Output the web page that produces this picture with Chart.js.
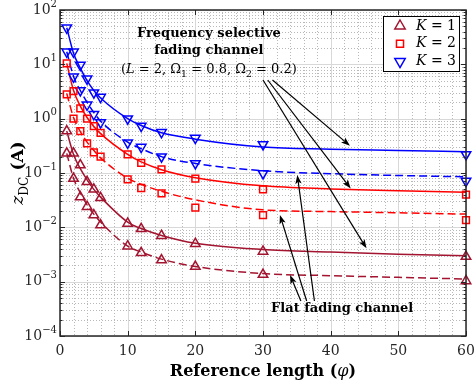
<!DOCTYPE html>
<html>
<head>
<meta charset="utf-8">
<script src="https://cdn.jsdelivr.net/npm/chart.js@4.4.1/dist/chart.umd.min.js"></script>
<style>
  html, body { margin: 0; padding: 0; background: #fff; }
  #wrap { width: 474px; height: 382px; }
</style>
</head>
<body>
<div id="wrap"><canvas id="chart" width="474" height="382"></canvas></div>
<script>
// ── Data ─────────────────────────────────────────────────────
// x positions of the simulated points and of the analytic curves
const X_SIM    = [1, 2, 3, 4, 5, 6, 10, 12, 15, 20, 30, 60];
const X_THEORY = [1, 2, 3, 4, 5, 6, 10, 12, 15, 20, 30, 40, 50, 60];

// analytic curves (solid = frequency selective, dashed = flat fading)
const K1_SEL_LINE  = [0.59, 0.22, 0.12, 0.075, 0.050, 0.036, 0.0125, 0.0095, 0.0071, 0.0051, 0.0039, 0.0035, 0.0032, 0.0030];
const K1_FLAT_LINE = [0.23, 0.08, 0.043, 0.026, 0.0175, 0.0125, 0.0045, 0.0035, 0.0026, 0.0019, 0.00141, 0.00129, 0.0012, 0.00112];
const K2_SEL_LINE  = [10.4, 3.3, 1.7, 1.05, 0.72, 0.53, 0.22, 0.16, 0.115, 0.082, 0.058, 0.051, 0.047, 0.044];
const K2_FLAT_LINE = [2.9, 1.05, 0.58, 0.37, 0.26, 0.19, 0.08, 0.062, 0.046, 0.032, 0.021, 0.0195, 0.0185, 0.0175];
const K3_SEL_LINE  = [47, 16, 8.5, 5.0, 3.3, 2.4, 1.0, 0.75, 0.55, 0.42, 0.30, 0.275, 0.26, 0.245];
const K3_FLAT_LINE = [17, 6.0, 3.3, 2.0, 1.3, 0.9, 0.37, 0.28, 0.20, 0.15, 0.11, 0.097, 0.09, 0.085];

// simulated points (markers)
const K1_SEL_SIM  = [0.59, 0.23, 0.14, 0.069, 0.050, 0.035, 0.0118, 0.0094, 0.0070, 0.0050, 0.0036, 0.0029];
const K1_FLAT_SIM = [0.23, 0.079, 0.036, 0.024, 0.0168, 0.011, 0.0045, 0.0034, 0.0025, 0.0019, 0.00135, 0.00103];
const K2_SEL_SIM  = [10.4, 3.2, 1.55, 1.0, 0.73, 0.55, 0.22, 0.154, 0.117, 0.079, 0.05, 0.040];
const K2_FLAT_SIM = [2.8, 1.0, 0.59, 0.35, 0.24, 0.2, 0.076, 0.053, 0.042, 0.023, 0.0168, 0.0136];
const K3_SEL_SIM  = [47, 17, 9.7, 5.4, 3.0, 2.5, 1.0, 0.73, 0.56, 0.44, 0.336, 0.22];
const K3_FLAT_SIM = [17, 5.9, 3.3, 1.8, 1.2, 0.85, 0.36, 0.30, 0.20, 0.15, 0.098, 0.071];

// axes
const X_TICKS    = [0, 10, 20, 30, 40, 50, 60];
const X_MINOR    = [2, 4, 6, 8, 12, 14, 16, 18, 22, 24, 26, 28, 32, 34, 36, 38, 42, 44, 46, 48, 52, 54, 56, 58];
const Y_TICK_EXP = [-4, -3, -2, -1, 0, 1, 2];

const COLORS = { k1: '#A2142F', k2: '#FF0000', k3: '#0000FF' };
const SERIF = '"DejaVu Serif", "Liberation Serif", serif';

// annotation arrows, in data coordinates [x, y] -> [x, y]
const FREQ_ARROWS = [
  [[30.0, 5.15], [45.3, 0.0041]],
  [[30.7, 5.15], [42.96, 0.052]],
  [[31.4, 5.15], [42.85, 0.317]]
];
const FLAT_ARROWS = [
  [[35.6, 4.4e-4], [34.0, 1.33e-3]],
  [[36.45, 4.4e-4], [32.5, 0.0169]],
  [[37.6, 4.4e-4], [35.07, 0.0919]]
];

// ── helpers ─────────────────────────────────────────────────
const pts = (xs, ys) => xs.map((x, i) => ({ x, y: ys[i] }));

function lineSet(ys, color, dashed) {
  return {
    data: pts(X_THEORY, ys),
    borderColor: color,
    borderWidth: 1.5,
    borderDash: dashed ? [8, 4] : [],
    pointRadius: 0,
    cubicInterpolationMode: 'monotone',
    fill: false
  };
}

function markerSet(ys, color, style) {
  return {
    data: pts(X_SIM, ys),
    showLine: false,
    clip: false,
    pointStyle: style === 'rect' ? 'rect' : 'triangle',
    pointRotation: style === 'down' ? 180 : 0,
    pointRadius: style === 'rect' ? 4.8 : 5.5,
    pointBorderWidth: 1.5,
    pointBorderColor: color,
    pointBackgroundColor: 'rgba(0,0,0,0)'
  };
}

// draw a run of mixed-style text pieces
function drawRuns(ctx, runs, x, y, size, align) {
  const fontOf = r => {
    const sz = (r.s ? size * 0.72 : size);
    return `${r.i ? 'italic ' : ''}${r.b ? 'bold ' : ''}${sz}px ${SERIF}`;
  };
  const widths = runs.map(r => { ctx.font = fontOf(r); return ctx.measureText(r.t).width; });
  const total = widths.reduce((a, b) => a + b, 0);
  let cx = align === 'center' ? x - total / 2 : align === 'right' ? x - total : x;
  ctx.textAlign = 'left';
  ctx.textBaseline = 'middle';
  runs.forEach((r, i) => {
    ctx.font = fontOf(r);
    const dy = r.s === 'sub' ? size * 0.32 : r.s === 'sup' ? -size * 0.42 : 0;
    ctx.fillText(r.t, cx, y + dy);
    cx += widths[i];
  });
}

function drawMarker(ctx, style, x, y, r, color) {
  ctx.save();
  ctx.strokeStyle = color;
  ctx.lineWidth = 1.5;
  ctx.beginPath();
  if (style === 'rect') {
    const h = r / Math.SQRT2;
    ctx.rect(x - h, y - h, 2 * h, 2 * h);
  } else {
    const s = style === 'down' ? -1 : 1;
    ctx.moveTo(x, y - s * r);
    ctx.lineTo(x + r * 0.866, y + s * r / 2);
    ctx.lineTo(x - r * 0.866, y + s * r / 2);
    ctx.closePath();
  }
  ctx.stroke();
  ctx.restore();
}

function drawArrow(ctx, x1, y1, x2, y2) {
  const ang = Math.atan2(y2 - y1, x2 - x1);
  const len = 9, half = 3.2, back = 2.2;
  ctx.save();
  ctx.strokeStyle = '#000';
  ctx.fillStyle = '#000';
  ctx.lineWidth = 1.2;
  ctx.beginPath();
  ctx.moveTo(x1, y1);
  ctx.lineTo(x2 - Math.cos(ang) * (len - back), y2 - Math.sin(ang) * (len - back));
  ctx.stroke();
  ctx.translate(x2, y2);
  ctx.rotate(ang);
  ctx.beginPath();
  ctx.moveTo(0, 0);
  ctx.lineTo(-len, -half);
  ctx.lineTo(-len + back, 0);
  ctx.lineTo(-len, half);
  ctx.closePath();
  ctx.fill();
  ctx.restore();
}

// ── grid, box, labels, annotations and legend ───────────────
const matlabAxes = {
  id: 'matlabAxes',
  beforeDatasetsDraw(chart) {
    const { ctx, chartArea: a, scales: { x, y } } = chart;
    const px = v => Math.round(v) + 0.5;
    ctx.save();
    ctx.lineWidth = 1;
    // minor grid (dotted)
    ctx.strokeStyle = '#b8b8b8';
    ctx.setLineDash([1, 2]);
    X_MINOR.forEach(v => {
      const p = px(x.getPixelForValue(v));
      ctx.beginPath(); ctx.moveTo(p, a.top); ctx.lineTo(p, a.bottom); ctx.stroke();
    });
    for (let e = -4; e < 2; e++) {
      for (let m = 2; m <= 9; m++) {
        const p = px(y.getPixelForValue(m * Math.pow(10, e)));
        ctx.beginPath(); ctx.moveTo(a.left, p); ctx.lineTo(a.right, p); ctx.stroke();
      }
    }
    // major grid
    ctx.setLineDash([]);
    ctx.strokeStyle = '#d8d8d8';
    X_TICKS.forEach(v => {
      const p = px(x.getPixelForValue(v));
      ctx.beginPath(); ctx.moveTo(p, a.top); ctx.lineTo(p, a.bottom); ctx.stroke();
    });
    Y_TICK_EXP.forEach(e => {
      const p = px(y.getPixelForValue(Math.pow(10, e)));
      ctx.beginPath(); ctx.moveTo(a.left, p); ctx.lineTo(a.right, p); ctx.stroke();
    });
    ctx.restore();
  },
  afterDraw(chart) {
    const { ctx, chartArea: a, scales: { x, y } } = chart;
    const px = v => Math.round(v) + 0.5;
    ctx.save();

    // box and ticks
    ctx.strokeStyle = '#262626';
    ctx.lineWidth = 1.5;
    ctx.strokeRect(a.left, a.top, a.right - a.left, a.bottom - a.top);
    ctx.lineWidth = 1;
    X_TICKS.forEach(v => {
      const p = px(x.getPixelForValue(v));
      ctx.beginPath();
      ctx.moveTo(p, a.bottom); ctx.lineTo(p, a.bottom - 5);
      ctx.moveTo(p, a.top); ctx.lineTo(p, a.top + 5);
      ctx.stroke();
    });
    for (let e = -4; e <= 2; e++) {
      for (let m = 1; m <= 9; m++) {
        if (e === 2 && m > 1) break;
        const p = px(y.getPixelForValue(m * Math.pow(10, e)));
        const len = m === 1 ? 5 : 2.5;
        ctx.beginPath();
        ctx.moveTo(a.left, p); ctx.lineTo(a.left + len, p);
        ctx.moveTo(a.right, p); ctx.lineTo(a.right - len, p);
        ctx.stroke();
      }
    }

    // tick labels
    ctx.fillStyle = '#262626';
    X_TICKS.forEach(v => {
      drawRuns(ctx, [{ t: String(v) }], x.getPixelForValue(v), a.bottom + 15, 14, 'center');
    });
    Y_TICK_EXP.forEach(e => {
      const exp = e < 0 ? '\u2212' + Math.abs(e) : String(e);
      drawRuns(ctx, [{ t: '10' }, { t: exp, s: 'sup' }], a.left - 3, y.getPixelForValue(Math.pow(10, e)), 14, 'right');
    });

    // axis titles
    ctx.fillStyle = '#000';
    drawRuns(ctx, [
      { t: 'Reference length (', b: true },
      { t: '\u03C6', i: true },
      { t: ')', b: true }
    ], (a.left + a.right) / 2, 372, 16, 'center');

    ctx.save();
    ctx.translate(19, (a.top + a.bottom) / 2);
    ctx.rotate(-Math.PI / 2);
    drawRuns(ctx, [
      { t: 'z', i: true },
      { t: 'DC', s: 'sub' },
      { t: ' (A)', b: true }
    ], 0, 0, 17, 'center');
    ctx.restore();

    // annotations
    const fx = x.getPixelForValue(22);
    drawRuns(ctx, [{ t: 'Frequency selective', b: true }], fx, 34, 13, 'center');
    drawRuns(ctx, [{ t: 'fading channel', b: true }], fx, 51, 13, 'center');
    drawRuns(ctx, [
      { t: '(' }, { t: 'L', i: true }, { t: ' = 2, \u03A9' }, { t: '1', s: 'sub' },
      { t: ' = 0.8, \u03A9' }, { t: '2', s: 'sub' }, { t: ' = 0.2)' }
    ], fx, 70, 13, 'center');
    drawRuns(ctx, [{ t: 'Flat fading channel', b: true }], x.getPixelForValue(41.7), 309, 13, 'center');

    FREQ_ARROWS.concat(FLAT_ARROWS).forEach(([s, h]) => {
      drawArrow(ctx,
        x.getPixelForValue(s[0]), y.getPixelForValue(s[1]),
        x.getPixelForValue(h[0]), y.getPixelForValue(h[1]));
    });

    // legend
    const lx = 383.5, ly = 16.5, lw = 76, lh = 55;
    ctx.fillStyle = '#fff';
    ctx.fillRect(lx, ly, lw, lh);
    ctx.strokeStyle = '#000';
    ctx.lineWidth = 1;
    ctx.strokeRect(lx, ly, lw, lh);
    const items = [
      { style: 'up', color: COLORS.k1, r: 6, label: '1' },
      { style: 'rect', color: COLORS.k2, r: 5, label: '2' },
      { style: 'down', color: COLORS.k3, r: 6, label: '3' }
    ];
    items.forEach((it, i) => {
      const yy = 26 + i * 17.8;
      drawMarker(ctx, it.style, 400, yy, it.r, it.color);
      ctx.fillStyle = '#000';
      drawRuns(ctx, [{ t: 'K', i: true }, { t: ' = ' + it.label }], 416, yy, 14, 'left');
    });

    ctx.restore();
  }
};

// ── build the chart ─────────────────────────────────────────
new Chart(document.getElementById('chart'), {
  type: 'line',
  data: {
    datasets: [
      markerSet(K1_SEL_SIM, COLORS.k1, 'up'),
      markerSet(K1_FLAT_SIM, COLORS.k1, 'up'),
      markerSet(K2_SEL_SIM, COLORS.k2, 'rect'),
      markerSet(K2_FLAT_SIM, COLORS.k2, 'rect'),
      markerSet(K3_SEL_SIM, COLORS.k3, 'down'),
      markerSet(K3_FLAT_SIM, COLORS.k3, 'down'),
      lineSet(K1_SEL_LINE, COLORS.k1, false),
      lineSet(K1_FLAT_LINE, COLORS.k1, true),
      lineSet(K2_SEL_LINE, COLORS.k2, false),
      lineSet(K2_FLAT_LINE, COLORS.k2, true),
      lineSet(K3_SEL_LINE, COLORS.k3, false),
      lineSet(K3_FLAT_LINE, COLORS.k3, true)
    ]
  },
  options: {
    responsive: false,
    animation: false,
    devicePixelRatio: 1,
    layout: { padding: { top: 10, right: 8, left: 0, bottom: 0 } },
    plugins: { legend: { display: false }, tooltip: { enabled: false } },
    scales: {
      x: {
        type: 'linear', min: 0, max: 60,
        grid: { display: false }, border: { display: false }, ticks: { display: false },
        afterFit: s => { s.height = 46; }
      },
      y: {
        type: 'logarithmic', min: 1e-4, max: 1e2,
        grid: { display: false }, border: { display: false }, ticks: { display: false },
        afterFit: s => { s.width = 60; }
      }
    }
  },
  plugins: [matlabAxes]
});
</script>
</body>
</html>
